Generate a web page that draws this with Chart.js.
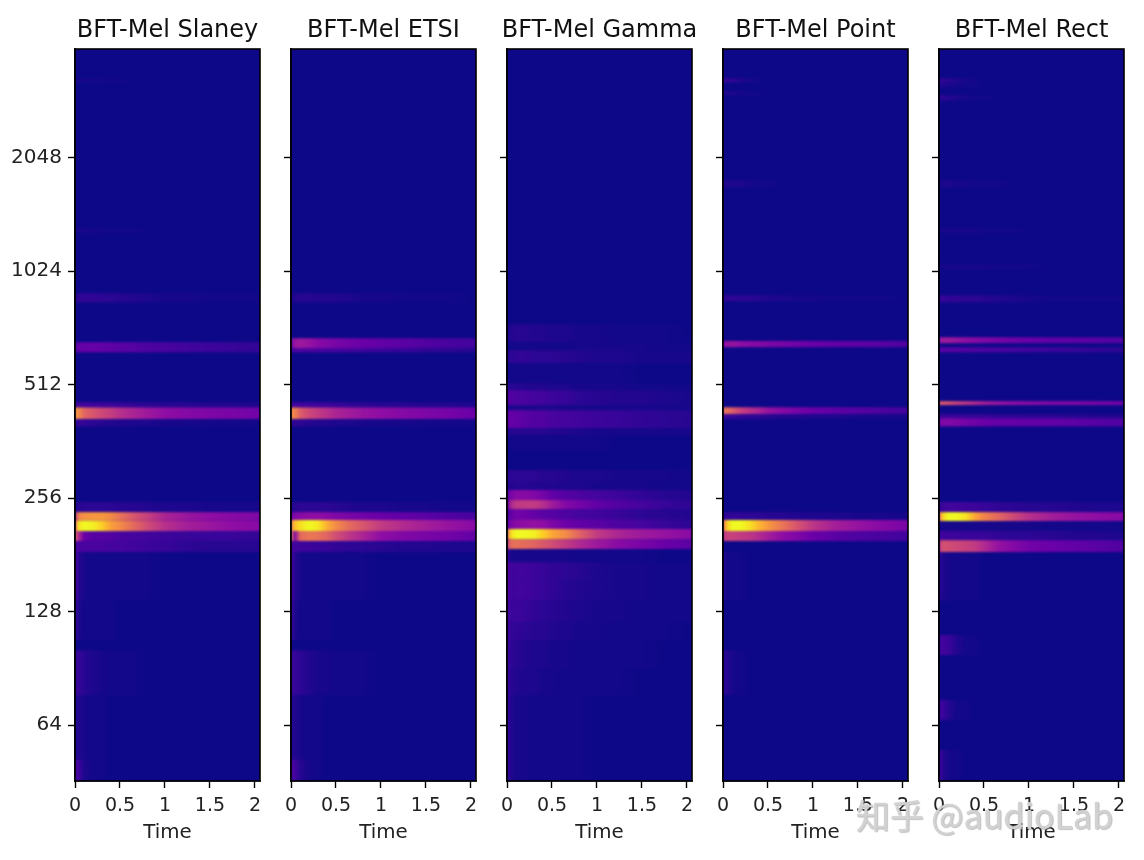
<!DOCTYPE html>
<html>
<head>
<meta charset="utf-8">
<title>BFT-Mel</title>
<script src="https://cdn.jsdelivr.net/npm/chart.js@4"></script>
<style>
  body { margin: 0; background: #fff; width: 1144px; height: 860px; overflow: hidden; }
  canvas { position: absolute; top: 0; }
  #mark { position: absolute; left: 856px; top: 790px; font: 34px "Noto Sans CJK SC", "Noto Sans", sans-serif;
          color: rgba(232,232,232,.72); white-space: nowrap;
          text-shadow: 0 0 1px #999, 1px 1px 1px rgba(130,130,130,.45); }
</style>
</head>
<body>
<div id="mark">知乎 @audioLab</div>
<script>
// axes
const timePoints = [0, 0.04, 0.1, 0.2, 0.3, 0.4, 0.5, 0.65, 0.8, 1, 1.25, 1.5, 1.75, 2.056];
const timeTicks = [0, 0.5, 1, 1.5, 2];
const freqTicks = [64, 128, 256, 512, 1024, 2048];
const freqMin = 45.46, freqMax = 3982;
const panelTitles = ['BFT-Mel Slaney', 'BFT-Mel ETSI', 'BFT-Mel Gamma', 'BFT-Mel Point', 'BFT-Mel Rect'];
const panelLefts = [75, 291, 507, 723, 939];

// each row: low Hz, high Hz, then level (0-100) at every entry of timePoints
const slaneyRows = [
  [3248, 3328, [2,2,2,2,1,1,1,0,0,0,0,0,0,0]],
  [1291, 1332, [1,2,2,2,1,1,1,1,0,0,0,0,0,0]],
  [847, 895, [4,6,7,7,6,6,5,4,3,2,2,1,1,1]],
  [624, 664, [15,18,19,19,18,17,16,15,13,12,10,9,8,7]],
  [415, 446, [78,72,60,55,50,47,42,38,34,30,27,25,24,22]],
  [446, 460, [9,11,10,10,9,9,8,7,6,5,5,4,4,3]],
  [397, 415, [6,8,7,6,5,4,4,3,3,2,2,1,1,1]],
  [235, 250, [4,5,6,6,6,6,5,5,4,3,3,2,2,2]],
  [223, 235, [40,70,74,75,76,72,65,55,48,38,33,30,28,26]],
  [209, 223, [60,95,100,98,90,78,72,62,52,42,36,33,30,28]],
  [196.9, 209, [62,40,20,15,15,14,12,11,10,9,8,8,8,7]],
  [184, 196.9, [12,12,12,12,12,11,11,10,9,8,6,5,5,5]],
  [137, 184, [16,5,2,1,1,1,1,1,1,0,0,0,0,0]],
  [107.6, 137, [9,3,1,1,1,1,0,0,0,0,0,0,0,0]],
  [76.9, 101, [8,8,5,3,2,1,1,1,0,0,0,0,0,0]],
  [51.7, 76.9, [5,4,2,1,1,0,0,0,0,0,0,0,0,0]],
  [45.46, 51.7, [14,10,3,1,1,0,0,0,0,0,0,0,0,0]]
];
const etsiRows = [
  [847, 895, [3,4,5,5,4,4,4,3,2,2,1,1,1,0]],
  [640, 680, [22,32,34,32,28,26,24,22,20,18,16,14,12,10]],
  [624, 640, [10,13,14,14,13,12,12,11,10,9,8,7,6,5]],
  [415, 446, [74,70,58,50,46,42,38,35,32,30,27,25,23,20]],
  [446, 460, [9,11,10,10,9,9,8,7,6,5,5,4,4,3]],
  [397, 415, [6,7,6,5,4,4,3,3,2,2,2,1,1,1]],
  [235, 250, [4,5,6,6,6,6,5,4,3,3,2,2,1,1]],
  [224, 235, [20,26,28,30,30,28,26,24,22,20,18,16,14,12]],
  [209.3, 224, [68,86,94,100,96,82,72,62,55,46,40,36,32,28]],
  [196.9, 209.3, [72,25,62,66,64,60,52,44,38,30,26,24,22,18]],
  [184, 196.9, [10,10,9,9,8,8,7,6,6,5,4,4,3,3]],
  [137, 184, [14,5,2,1,1,1,1,1,1,0,0,0,0,0]],
  [107.6, 137, [9,3,1,1,1,1,0,0,0,0,0,0,0,0]],
  [76.9, 101, [8,8,6,4,2,2,1,1,1,0,0,0,0,0]],
  [51.7, 76.9, [5,4,2,1,1,0,0,0,0,0,0,0,0,0]],
  [45.46, 51.7, [13,11,5,2,1,0,0,0,0,0,0,0,0,0]]
];
const gammaRows = [
  [664, 740, [3,4,5,5,4,4,3,3,2,2,1,1,1,0]],
  [632, 664, [0,1,1,1,1,1,1,1,2,2,2,2,1,1]],
  [584, 632, [5,6,7,7,6,6,6,5,4,3,3,2,2,2]],
  [516.6, 584, [1,1,1,1,1,1,1,1,1,1,1,0,0,0]],
  [495, 516.6, [5,5,5,4,4,4,3,3,2,2,2,1,1,1]],
  [452, 495, [14,14,13,12,11,10,9,8,6,5,4,4,3,2]],
  [438, 452, [3,3,3,3,3,3,3,2,2,2,2,2,2,2]],
  [392.5, 438, [18,19,18,16,14,14,12,11,10,9,8,7,6,5]],
  [376, 392.5, [5,5,5,5,5,5,4,4,3,2,2,2,2,2]],
  [343, 376, [1,1,1,1,1,1,1,1,1,1,0,0,0,0]],
  [282, 304, [5,6,6,6,6,5,5,4,3,3,2,2,2,1]],
  [269, 282, [4,4,5,5,4,4,4,3,3,2,2,2,1,1]],
  [253, 269, [14,24,28,28,26,23,18,15,13,11,9,7,5,4]],
  [239, 253, [16,38,45,46,46,42,35,27,23,18,14,11,8,6]],
  [225, 239, [11,18,22,21,18,16,15,13,11,10,8,6,5,4]],
  [212, 225, [18,24,28,30,31,30,25,21,18,16,13,11,8,6]],
  [199, 212, [60,92,100,100,98,90,80,72,60,46,38,34,32,28]],
  [187.5, 199, [44,62,64,62,60,56,52,46,40,34,28,24,20,16]],
  [173, 187.5, [14,2,2,2,2,2,2,2,1,1,1,1,0,0]],
  [155, 173, [22,9,10,10,9,8,7,6,5,3,2,2,1,1]],
  [137, 155, [20,9,10,10,9,8,7,5,4,3,2,2,1,1]],
  [120, 137, [15,8,9,8,7,6,5,4,3,2,2,1,1,1]],
  [107.6, 120, [14,7,7,6,5,5,4,3,2,2,1,1,1,0]],
  [90, 107.6, [13,6,5,4,3,3,2,2,1,1,1,1,0,0]],
  [76.9, 90, [12,5,4,3,3,2,2,1,1,1,1,0,0,0]],
  [45.46, 76.9, [9,4,2,2,1,1,1,1,1,0,0,0,0,0]]
];
const pointRows = [
  [3248, 3328, [9,8,7,4,2,1,0,0,0,0,0,0,0,0]],
  [3000, 3074, [4,4,3,2,1,1,0,0,0,0,0,0,0,0]],
  [1711, 1785, [4,4,3,3,2,1,1,0,0,0,0,0,0,0]],
  [853, 884, [6,7,7,6,6,5,4,3,2,2,1,1,1,0]],
  [644, 669, [28,32,32,30,28,27,25,24,22,20,18,17,16,13]],
  [427.6, 446, [62,64,58,48,42,38,32,28,24,20,17,15,13,10]],
  [415, 427.6, [8,9,8,7,6,6,5,4,4,3,3,2,2,2]],
  [224, 235, [6,7,7,7,6,6,5,5,4,3,3,2,2,2]],
  [209.3, 224, [60,88,100,100,94,84,76,66,56,44,36,32,28,24]],
  [196.9, 209.3, [42,48,48,46,44,40,36,30,26,20,16,13,12,10]],
  [137, 184, [5,2,1,1,0,0,0,0,0,0,0,0,0,0]],
  [76.9, 101, [6,5,2,1,0,0,0,0,0,0,0,0,0,0]]
];
const rectRows = [
  [3248, 3328, [8,7,6,4,2,1,0,0,0,0,0,0,0,0]],
  [3150, 3248, [4,4,3,2,1,1,0,0,0,0,0,0,0,0]],
  [2909, 3000, [6,6,5,3,2,1,1,0,0,0,0,0,0,0]],
  [1711, 1785, [3,3,3,2,2,1,1,1,0,0,0,0,0,0]],
  [1291, 1332, [2,2,2,2,2,2,1,1,1,0,0,0,0,0]],
  [1036, 1069, [2,2,2,2,2,2,2,1,1,1,0,0,0,0]],
  [847, 884, [7,8,7,7,6,6,5,4,3,2,1,1,1,1]],
  [660, 684, [32,34,34,32,30,28,26,24,22,20,18,17,16,14]],
  [624, 644, [14,15,15,15,14,13,13,12,11,10,9,8,7,6]],
  [452, 463, [52,56,54,48,44,40,36,32,30,28,26,26,24,22]],
  [417, 427.6, [8,9,9,9,8,8,8,7,7,6,6,5,4,4]],
  [397, 417, [22,26,26,25,23,22,20,19,19,18,18,17,15,14]],
  [235, 250, [7,9,10,10,9,9,8,7,6,5,5,4,3,3]],
  [222.5, 235, [60,90,100,100,94,80,70,62,52,42,36,32,30,28]],
  [209.3, 222.5, [2,2,2,2,2,2,2,2,2,2,1,1,1,1]],
  [198, 209.3, [9,10,9,9,8,8,8,7,6,6,5,4,4,3]],
  [184, 198, [40,54,52,50,48,46,40,32,28,22,20,18,16,14]],
  [137, 184, [7,3,2,1,1,1,0,0,0,0,0,0,0,0]],
  [98.1, 110.9, [10,10,9,4,1,1,0,0,0,0,0,0,0,0]],
  [66, 74.6, [9,9,5,1,1,0,0,0,0,0,0,0,0,0]],
  [45.46, 54.9, [12,5,2,1,0,0,0,0,0,0,0,0,0,0]]
];
const panelRows = [slaneyRows, etsiRows, gammaRows, pointRows, rectRows];

// plasma colormap
const plasmaStops = ['#0d0887','#41049d','#6a00a8','#8f0da4','#b12a90','#cc4778','#e16462','#f1844b','#fca636','#fcce25','#f0f921'];

function plasma(level) {
  const p = Math.min(level, 100) / 10;
  const i = Math.min(Math.floor(p), 9);
  const f = p - i;
  const a = parseInt(plasmaStops[i].slice(1), 16);
  const b = parseInt(plasmaStops[i + 1].slice(1), 16);
  const mix = shift => Math.round((a >> shift & 255) * (1 - f) + (b >> shift & 255) * f);
  return 'rgb(' + mix(16) + ',' + mix(8) + ',' + mix(0) + ')';
}

// paints the rows as spectrogram cells, positions come from the chart scales.
// Goes through a scratch canvas so the blur does not leave seams between rows.
const heatCells = {
  id: 'heatCells',
  beforeDatasetsDraw(chart) {
    const { ctx, chartArea: area, scales: { x, y } } = chart;
    const scratch = document.createElement('canvas');
    scratch.width = area.width;
    scratch.height = area.height;
    const sc = scratch.getContext('2d');
    sc.fillStyle = plasma(0);
    sc.fillRect(0, 0, area.width, area.height);
    chart.data.datasets.forEach(ds => {
      const top = y.getPixelForValue(ds.high) - area.top;
      const bottom = y.getPixelForValue(ds.low) - area.top;
      const grad = sc.createLinearGradient(0, 0, area.width, 0);
      timePoints.forEach((t, i) => {
        grad.addColorStop((x.getPixelForValue(t) - area.left) / area.width, plasma(ds.levels[i]));
      });
      sc.fillStyle = grad;
      sc.fillRect(0, top, area.width, bottom - top);
    });
    ctx.save();
    ctx.beginPath();
    ctx.rect(area.left, area.top, area.width, area.height);
    ctx.clip();
    ctx.fillStyle = plasma(0);
    ctx.fillRect(area.left, area.top, area.width, area.height);
    ctx.filter = 'blur(1.2px)';
    ctx.drawImage(scratch, area.left, area.top);
    ctx.restore();
  },
  afterDraw(chart) {
    const { ctx, chartArea: area } = chart;
    ctx.save();
    ctx.strokeStyle = '#000';
    ctx.lineWidth = 1.6;
    ctx.strokeRect(area.left, area.top, area.width, area.height);
    ctx.restore();
  }
};

const xTickFont = { family: 'DejaVu Sans', size: 19 };
const yTickFont = { family: 'DejaVu Sans', size: 20 };
const labelFont = { family: 'DejaVu Sans', size: 19.8 };
const yGutter = 70;   // room for the frequency labels, same on the right so the title stays centred

panelTitles.forEach((title, p) => {
  const canvas = document.createElement('canvas');
  canvas.width = yGutter + 185 + yGutter;
  canvas.height = 860;
  canvas.style.left = (panelLefts[p] - yGutter) + 'px';
  document.body.insertBefore(canvas, document.getElementById('mark'));

  new Chart(canvas, {
    type: 'scatter',
    plugins: [heatCells],
    data: {
      datasets: panelRows[p].map(r => ({
        low: r[0],
        high: r[1],
        levels: r[2],
        data: timePoints.map(t => ({ x: t, y: (r[0] + r[1]) / 2 })),
        pointRadius: 0
      }))
    },
    options: {
      responsive: false,
      animation: false,
      devicePixelRatio: 1,
      plugins: {
        legend: { display: false },
        tooltip: { enabled: false },
        title: {
          display: true,
          text: title,
          color: '#111',
          font: { family: 'DejaVu Sans', size: 24, weight: 'normal', lineHeight: 1.2 },
          padding: { top: 16, bottom: 4.2 }
        }
      },
      scales: {
        x: {
          type: 'linear',
          min: 0,
          max: 2.056,
          afterBuildTicks: axis => { axis.ticks = timeTicks.map(v => ({ value: v })); },
          afterFit: axis => { axis.height = 79; },
          ticks: {
            autoSkip: false,
            maxRotation: 0,
            padding: 7,
            color: '#222',
            font: xTickFont,
            callback: v => String(v)
          },
          grid: { drawOnChartArea: false, tickLength: 7, tickColor: '#000', tickWidth: 1.4 },
          border: { color: '#000', width: 1.6 },
          title: {
            display: true,
            text: 'Time',
            color: '#222',
            font: labelFont,
            padding: { top: 0, bottom: 15 }
          }
        },
        y: {
          type: 'logarithmic',
          min: freqMin,
          max: freqMax,
          afterBuildTicks: axis => { axis.ticks = freqTicks.map(v => ({ value: v })); },
          afterFit: axis => { axis.width = yGutter; },
          ticks: {
            autoSkip: false,
            padding: 6,
            color: '#222',
            font: yTickFont,
            callback: v => (p === 0 ? String(v) : '')
          },
          grid: { drawOnChartArea: false, tickLength: 7, tickColor: '#000', tickWidth: 1.4 },
          border: { color: '#000', width: 1.6 }
        },
        // empty axis, only balances the left gutter
        spacer: {
          type: 'linear',
          position: 'right',
          afterFit: axis => { axis.width = yGutter; },
          ticks: { display: false },
          grid: { display: false },
          border: { display: false }
        }
      }
    }
  });
});
</script>
</body>
</html>
